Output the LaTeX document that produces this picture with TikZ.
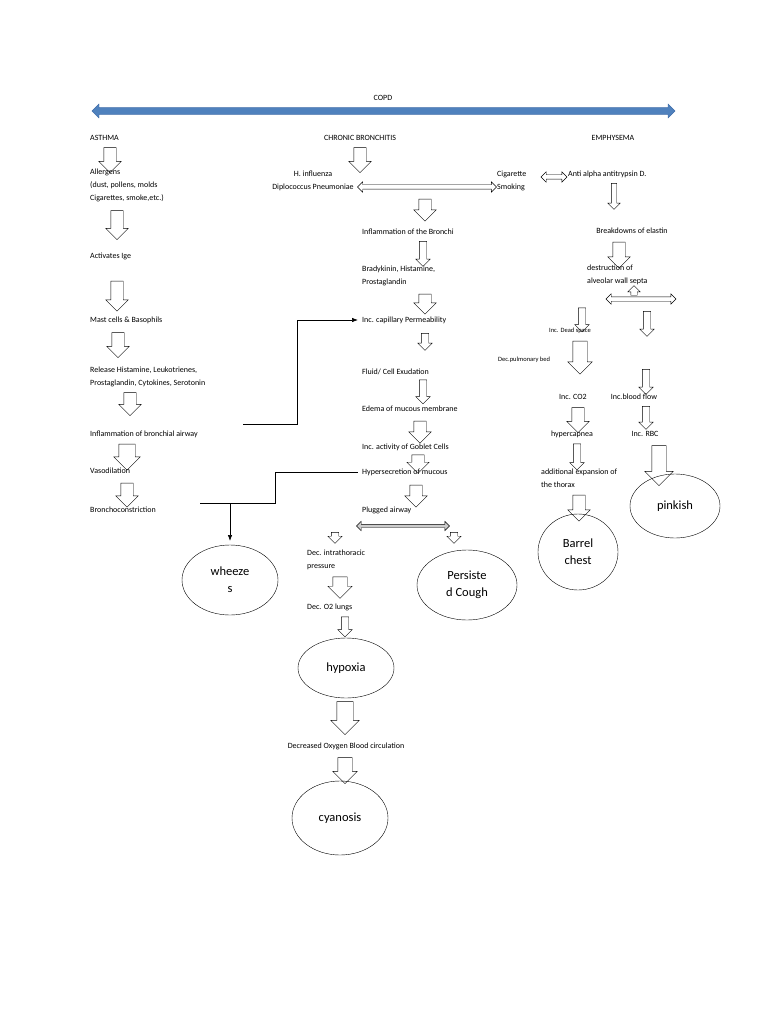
\documentclass[tikz,border=0pt]{standalone}
\usepackage{fontspec}
\setmainfont{Carlito}
\usetikzlibrary{arrows.meta,positioning,shapes.arrows,shapes.geometric}
\tikzstyle{txt} = [font=\fontsize{8}{13}\selectfont, inner sep=0pt, align=left]
\tikzstyle{stxt} = [font=\fontsize{6.5}{8}\selectfont, inner sep=0pt]
\tikzstyle{down} = [single arrow, draw, shape border rotate=270, inner sep=6pt,
  single arrow head extend=5pt, single arrow head indent=0pt]
\tikzstyle{sdown} = [down, inner sep=3.5pt, single arrow head extend=3.5pt]
\tikzstyle{both} = [double arrow, draw, inner sep=2pt, double arrow head extend=3pt]
\tikzstyle{oval} = [ellipse, draw, font=\fontsize{12.5}{17}\selectfont, align=center]
\tikzstyle{link} = [line width=0.7pt]
\begin{document}
\begin{tikzpicture}[x=1pt, y=-1pt]
  \useasboundingbox (0,0) rectangle (768,1024);

  % COPD bar
  \node [double arrow, fill={rgb,255:red,79;green,129;blue,189}, draw={rgb,255:red,65;green,110;blue,170},
         minimum height=583pt, minimum width=14pt, inner sep=2.5pt, double arrow head extend=3pt]
         (bar) at (383.5,111) {};
  \node [txt] (copd) at (383,98) {COPD};

  % Asthma
  \node [txt, anchor=west] (asthma) at (90,138) {ASTHMA};
  \node [txt, anchor=north west] (allergen) at (90,169) {Allergens\\(dust, pollens, molds\\Cigarettes, smoke,etc.)};
  \node [txt, anchor=west] (ige) at (90,256) {Activates Ige};
  \node [txt, anchor=west] (mast) at (90,320) {Mast cells \& Basophils};
  \node [txt, anchor=north west] (release) at (90,367) {Release Histamine, Leukotrienes,\\Prostaglandin, Cytokines, Serotonin};
  \node [txt, anchor=west] (ibaw) at (90,434) {Inflammation of bronchial airway};
  \node [txt, anchor=west] (vaso) at (90,471) {Vasodilation};
  \node [txt, anchor=west] (bcon) at (90,510) {Bronchoconstriction};

  \node [down, minimum height=25pt] at (110,157) {};
  \node [down, minimum height=29pt] at (117,222) {};
  \node [down, minimum height=30pt] at (117,293) {};
  \node [down, minimum height=25pt] at (118,342) {};
  \node [down, minimum height=23pt] at (130,401) {};
  \node [down, minimum height=26pt, inner sep=8pt] at (127,453) {};
  \node [down, minimum height=24pt] at (127,492) {};

  % Chronic bronchitis
  \node [txt] (cb) at (360,138) {CHRONIC BRONCHITIS};
  \node [txt, align=center] (hinf) at (313,181) {H. influenza\\Diplococcus Pneumoniae};
  \node [txt, anchor=west] (cig) at (497,181) {Cigarette\\Smoking};
  \node [txt, anchor=west] (iob) at (362,232) {Inflammation of the Bronchi};
  \node [txt, anchor=west] (brady) at (362,276) {Bradykinin, Histamine,\\Prostaglandin};
  \node [txt, anchor=west] (icp) at (362,320) {Inc. capillary Permeability};
  \node [txt, anchor=west] (fluid) at (362,372) {Fluid/ Cell Exudation};
  \node [txt, anchor=west] (edema) at (362,409) {Edema of mucous membrane};
  \node [txt, anchor=west] (goblet) at (362,447) {Inc. activity of Goblet Cells};
  \node [txt, anchor=west] (hyper) at (362,472) {Hypersecretion of mucous};
  \node [txt, anchor=west] (plug) at (362,510) {Plugged airway};
  \node [txt, anchor=west] (dip) at (307,560) {Dec. intrathoracic\\pressure};
  \node [txt, anchor=west] (do2) at (307,607) {Dec. O2 lungs};
  \node [txt] (dobc) at (346,746) {Decreased Oxygen Blood circulation};

  \node [down, minimum height=25pt] at (360,157) {};
  \node [both, minimum height=139pt, minimum width=10pt] at (427,187) {};
  \node [down, minimum height=22pt] at (425,207) {};
  \node [sdown, minimum height=25pt] at (423,252) {};
  \node [down, minimum height=20pt] at (425,301) {};
  \node [sdown, minimum height=17pt] at (425,340) {};
  \node [sdown, minimum height=24pt] at (423,390) {};
  \node [down, minimum height=22pt] at (420,429) {};
  \node [down, minimum height=15pt] at (418,461) {};
  \node [down, minimum height=22pt] at (416,493) {};
  \node [both, minimum height=93pt, minimum width=8pt, inner sep=1.5pt, fill=gray!40] at (403,526) {};
  \node [sdown, minimum height=11pt] at (335,536) {};
  \node [sdown, minimum height=11pt] at (454,536) {};
  \node [down, minimum height=13pt, inner sep=7pt] at (340,584) {};
  \node [sdown, minimum height=20pt] at (345,625) {};
  \node [down, minimum height=33pt, inner sep=8pt, single arrow head extend=6pt] at (345,714) {};
  \node [down, minimum height=26pt, inner sep=7pt] at (345,767) {};

  \node [oval, minimum width=96pt, minimum height=70pt] (whz) at (230,580) {wheeze\\s};
  \node [oval, minimum width=100pt, minimum height=70pt] (cough) at (467,585) {Persiste\\d Cough};
  \node [oval, minimum width=96pt, minimum height=60pt] (hyp) at (346,668) {hypoxia};
  \node [oval, minimum width=96pt, minimum height=74pt] (cyan) at (340,818) {cyanosis};

  % Emphysema
  \node [txt] (emph) at (613,138) {EMPHYSEMA};
  \node [txt, anchor=west] (aat) at (568,174) {Anti alpha antitrypsin D.};
  \node [txt] (elast) at (632,231) {Breakdowns of elastin};
  \node [txt, anchor=west] (destr) at (587,275) {destruction of\\alveolar wall septa};
  \node [stxt] (ids) at (570,331) {Inc. Dead space};
  \node [stxt, anchor=west] (dpb) at (498,360) {Dec.pulmonary bed};
  \node [txt] (ico2) at (573,397) {Inc. CO2};
  \node [txt] (ibf) at (634,397) {Inc.blood flow};
  \node [txt] (hcap) at (572,434) {hypercapnea};
  \node [txt] (rbc) at (645,434) {Inc. RBC};
  \node [txt, anchor=west] (thor) at (541,478) {additional expansion of\\the thorax};

  \node [both, minimum height=26pt, minimum width=10pt] at (554,177) {};
  \node [sdown, minimum height=26pt, inner sep=2.5pt] at (614,195) {};
  \node [down, minimum height=26pt] at (619,252) {};
  \node [both, minimum height=70pt, minimum width=10pt] at (641,299) {};
  \node [sdown, minimum height=8pt, inner sep=3pt, single arrow head extend=3pt, shape border rotate=90] at (634,292) {};
  \node [sdown, minimum height=24pt] at (582,318) {};
  \node [down, minimum height=33pt, inner sep=7pt] at (580,354) {};
  \node [sdown, minimum height=25pt] at (647,322) {};
  \node [sdown, minimum height=25pt] at (646,380) {};
  \node [down, minimum height=25pt] at (578,417) {};
  \node [sdown, minimum height=23pt] at (646,416) {};
  \node [sdown, minimum height=26pt] at (577,455) {};
  \node [down, minimum height=26pt] at (579,505) {};
  \node [down, minimum height=40pt, inner sep=7pt, single arrow head extend=7pt] at (659,462) {};

  \node [oval, minimum width=80pt, minimum height=76pt] (barrel) at (578,552) {Barrel\\chest};
  \node [oval, minimum width=90pt, minimum height=64pt] (pink) at (675,506) {pinkish};

  % connectors
  \coordinate (start) at (243,424);
  \coordinate (bend) at (297,424);
  \coordinate (tail) at (200,503);
  \coordinate (turn) at (275,503);
  \coordinate (drop) at (230,503);
  \coordinate (end) at (230,541);
  \draw [link, -{Latex[length=6pt]}] (start) -- (bend) |- ([xshift=-4pt]icp.west);
  \draw [link] (tail) -- (turn) |- ([xshift=-4pt]hyper.west);
  \draw [link, -{Latex[length=6pt]}] (drop) -- (end);
\end{tikzpicture}
\end{document}
